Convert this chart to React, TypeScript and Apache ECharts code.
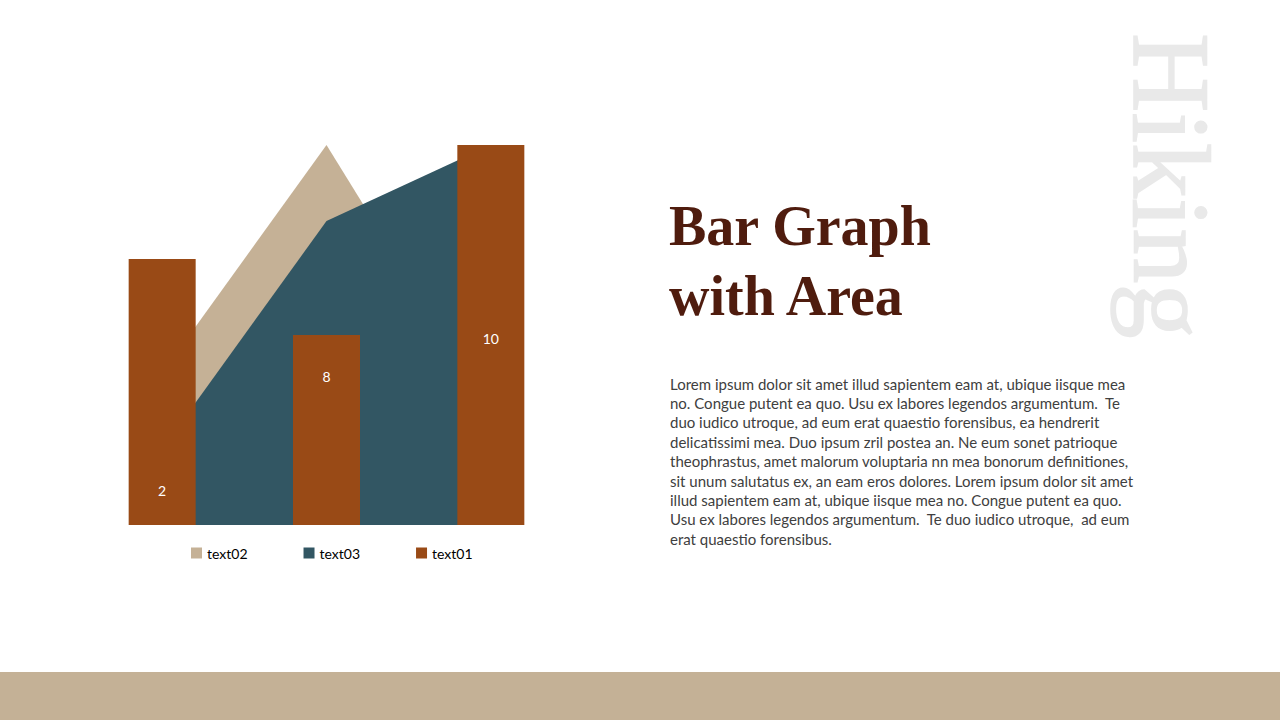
import React, { useEffect, useRef } from "react";
import * as echarts from "echarts";

const categories = ["A", "B", "C"];
const text01 = [7, 5, 10];
const text02 = [4, 10, 3];
const text03 = [2, 8, 10];
const labelValues = [2, 8, 10];

const titleLines = ["Bar Graph", "with Area"];
const paragraphLines = [
  "Lorem ipsum dolor sit amet illud sapientem eam at, ubique iisque mea",
  "no. Congue putent ea quo. Usu ex labores legendos argumentum.  Te",
  "duo iudico utroque, ad eum erat quaestio forensibus, ea hendrerit",
  "delicatissimi mea. Duo ipsum zril postea an. Ne eum sonet patrioque",
  "theophrastus, amet malorum voluptaria nn mea bonorum definitiones,",
  "sit unum salutatus ex, an eam eros dolores. Lorem ipsum dolor sit amet",
  "illud sapientem eam at, ubique iisque mea no. Congue putent ea quo.",
  "Usu ex labores legendos argumentum.  Te duo iudico utroque,  ad eum",
  "erat quaestio forensibus.",
];

const BROWN = "#994a16";
const TEAL = "#325663";
const TAN = "#c5b196";

export default function App() {
  const ref = useRef<HTMLDivElement>(null);
  useEffect(() => {
    if (!ref.current) return;
    const chart = echarts.init(ref.current, null, { renderer: "svg" });
    const graphics: any[] = [
      {
        type: "rect",
        shape: { x: 0, y: 672, width: 1280, height: 48 },
        style: { fill: "#c4b196" },
        silent: true,
      },
      {
        type: "text",
        x: 1116,
        y: 33,
        rotation: -Math.PI / 2,
        style: {
          text: "Hiking",
          font: "normal 110px 'Liberation Serif'",
          fill: "#e9e9e9",
          stroke: "#e9e9e9",
          lineWidth: 1.5,
          textAlign: "left",
          textVerticalAlign: "bottom",
        },
        silent: true,
      },
      ...titleLines.map((t, i) => ({
        type: "text",
        left: 669,
        top: 198 + i * 70,
        style: {
          text: t,
          font: "bold 56px 'Liberation Serif'",
          fill: "#4f1c0e",
        },
      })),
      ...paragraphLines.map((t, i) => ({
        type: "text",
        left: 670,
        top: 376 + i * 19.4,
        style: {
          text: t,
          font: "15px Lato",
          fill: "#404040",
        },
      })),
    ];
    chart.setOption({
      animation: false,
      backgroundColor: "#ffffff",
      grid: { left: 80, right: 707, top: 145, bottom: 195 },
      legend: {
        data: ["text02", "text03", "text01"],
        left: 186,
        top: 541,
        itemWidth: 11,
        itemHeight: 11,
        itemGap: 56,
        icon: "rect",
        textStyle: { fontFamily: "Lato", fontSize: 14, color: "#000" },
      },
      xAxis: {
        type: "category",
        data: categories,
        boundaryGap: true,
        show: false,
      },
      yAxis: { type: "value", min: 0, max: 10, show: false },
      series: [
        {
          name: "text02",
          type: "line",
          data: text02,
          symbol: "none",
          lineStyle: { width: 0 },
          areaStyle: { color: TAN, opacity: 1 },
          itemStyle: { color: TAN },
          z: 1,
        },
        {
          name: "text03",
          type: "line",
          data: text03,
          symbol: "none",
          lineStyle: { width: 0 },
          areaStyle: { color: TEAL, opacity: 1 },
          itemStyle: { color: TEAL },
          z: 2,
        },
        {
          name: "text01",
          type: "bar",
          data: text01,
          barWidth: 67,
          itemStyle: { color: BROWN },
          z: 3,
        },
        {
          name: "labels",
          type: "bar",
          data: labelValues,
          barWidth: 67,
          barGap: "-100%",
          itemStyle: { color: "rgba(0,0,0,0)" },
          label: {
            show: true,
            position: "inside",
            color: "#ffffff",
            fontFamily: "Lato",
            fontSize: 14,
            offset: [0, 3],
          },
          z: 4,
        },
      ],
      graphic: graphics,
    });
    return () => chart.dispose();
  }, []);
  return (
    <div
      ref={ref}
      style={{ position: "fixed", left: 0, top: 0, width: 1280, height: 720 }}
    />
  );
}
